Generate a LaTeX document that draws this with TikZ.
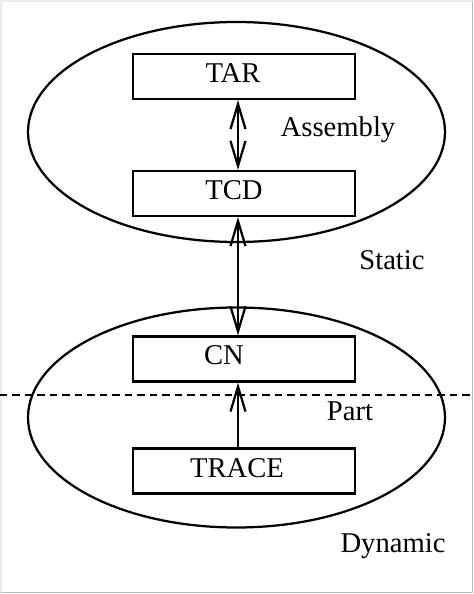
\documentclass[tikz,border=0pt]{standalone}
\usepackage{fontspec}
\setmainfont{Liberation Serif}
\usetikzlibrary{arrows.meta,shapes.geometric}

\begin{document}
\begin{tikzpicture}[>={Straight Barb[width=3mm,length=5mm]},line width=0.045cm]
\tikzstyle{every node}=[font=\fontsize{16.3}{19}\selectfont]
\tikzstyle{box}=[draw,minimum width=4.44cm,minimum height=0.9cm,inner sep=0pt]
\tikzstyle{region}=[draw,ellipse,minimum width=8.34cm,minimum height=4.4cm,inner sep=0pt]
\useasboundingbox (0,0) rectangle (9.48,11.88);
\draw[gray!15,line width=0.03cm] (0.02,0.03) -- (0.02,11.86) -- (9.45,11.86);
\draw[gray!55,line width=0.03cm] (0.02,0.03) -- (9.45,0.03) -- (9.45,11.86);

\node[region] (upper) at (4.73,9.24) {};
\node[region] (lower) at (4.73,3.53) {};

\node[box,label={[xshift=-0.22cm,yshift=0.07cm]center:TAR}] (tar) at (4.88,10.35) {};
\node[box,label={[xshift=-0.2cm,yshift=0.07cm]center:TCD}] (tcd) at (4.88,8.01) {};
\node[box,label={[xshift=-0.4cm,yshift=0.08cm]center:CN}] (cn) at (4.88,4.70) {};
\node[box,label={[xshift=-0.14cm,yshift=0.06cm]center:TRACE}] (trace) at (4.88,2.46) {};

\node[anchor=base] (assembly) at (6.76,9.14) {Assembly};
\node[anchor=base] (static) at (7.84,6.50) {Static};
\node[anchor=base] (part) at (7.0,3.47) {Part};
\node[anchor=base] (dynamic) at (7.86,0.82) {Dynamic};

\draw[<->] ([xshift=-0.12cm]tar.south) -- ([xshift=-0.12cm]tcd.north);
\draw[<->] ([xshift=-0.12cm]tcd.south) -- ([xshift=-0.12cm]cn.north);
\draw[->] ([xshift=-0.12cm]trace.north) -- ([xshift=-0.12cm]cn.south);

\draw[dash pattern=on 0.15cm off 0.1cm] (0,3.98) -- (9.48,3.98);

\end{tikzpicture}
\end{document}
